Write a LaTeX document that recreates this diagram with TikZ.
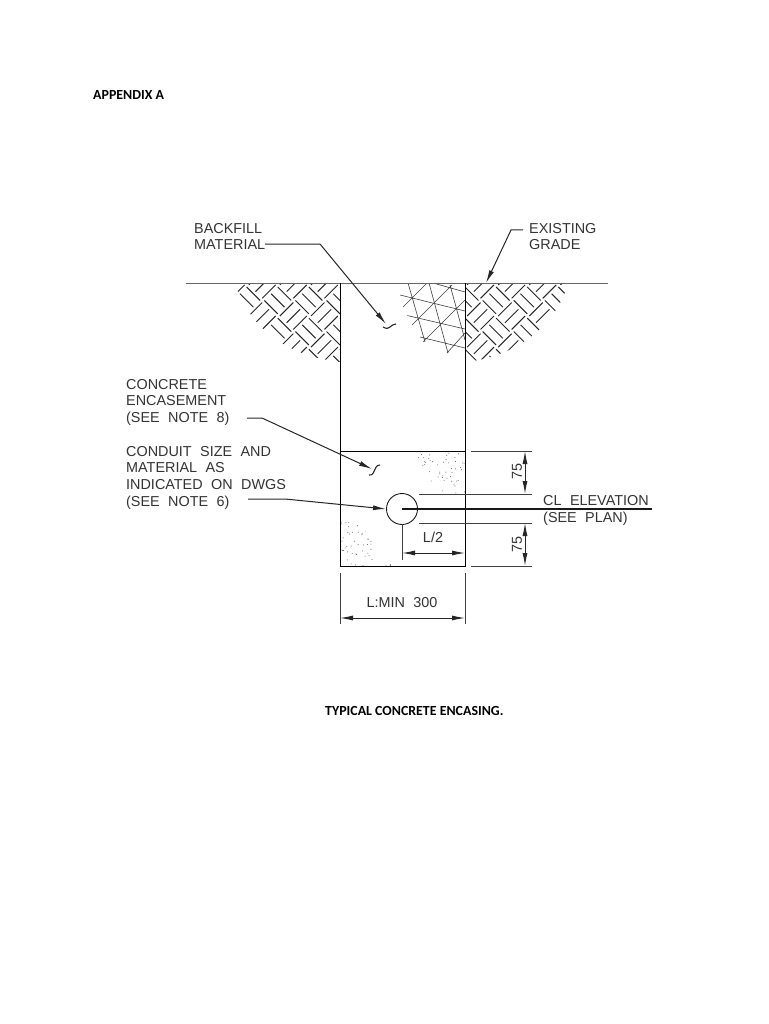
\documentclass[tikz,border=0pt]{standalone}
\usepackage{fontspec}
\usetikzlibrary{arrows.meta}
\newfontfamily\cadfont[WordSpace=2.1]{Liberation Sans}
\newfontfamily\docfont{Carlito}
\definecolor{cadtext}{gray}{0.2}
\tikzset{
  cadlabel/.style={anchor=north west,inner sep=0pt,align=left,text=cadtext,font=\cadfont\fontsize{14.4}{16.6}\selectfont},
  doclabel/.style={anchor=base west,inner sep=0pt,font=\docfont\bfseries\fontsize{13.9}{16}\selectfont},
  outline/.style={line width=0.9pt,black},
  thinline/.style={line width=0.9pt,black!75},
  leader/.style={line width=1pt,black!85,-{Latex[length=13pt,width=5pt]}},
  dimline/.style={line width=0.9pt,black!85,{Latex[length=13pt,width=5pt]}-{Latex[length=13pt,width=5pt]}},
  hatchline/.style={line width=0.95pt,black!85},
  meshline/.style={line width=0.6pt,black!75},
  squiggle/.style={line width=1.1pt,black!85}
}
\newcommand{\weave}[3]{%
  \begin{scope}
    \clip #1;
    \begin{scope}[shift={(#2,#3)},rotate=45]
      \foreach \i in {-6,...,6}{\foreach \j in {-6,...,6}{
        \pgfmathtruncatemacro{\wv}{mod(abs(\i+\j),2)}
        \pgfmathsetmacro{\xa}{\i*22+1.5}
        \pgfmathsetmacro{\xb}{\i*22+20.5}
        \pgfmathsetmacro{\ya}{\j*22+1.5}
        \pgfmathsetmacro{\yb}{\j*22+20.5}
        \pgfmathsetmacro{\xm}{\i*22+11}
        \pgfmathsetmacro{\ym}{\j*22+11}
        \ifnum\wv=0
          \draw[hatchline] (\xa,\ya) -- (\xb,\ya) (\xa,\ym) -- (\xb,\ym) (\xa,\yb) -- (\xb,\yb);
        \else
          \draw[hatchline] (\xa,\ya) -- (\xa,\yb) (\xm,\ya) -- (\xm,\yb) (\xb,\ya) -- (\xb,\yb);
        \fi
      }}
    \end{scope}
  \end{scope}}
\begin{document}
\begin{tikzpicture}[x=1pt,y=-1pt]
\useasboundingbox (0,0) rectangle (768,1024);

% page texts
\node[doclabel] (appendix) at (93,100) {APPENDIX A};
\node[doclabel] (caption) at (325,715) {TYPICAL CONCRETE ENCASING.};

% hatch regions
\weave{(235,284) -- (340,284) -- (340,362) .. controls (300,357) and (255,340) .. (235,284) -- cycle}{340}{316}
\weave{(465,284) -- (568,284) .. controls (552,335) and (505,358) .. (465,362) -- cycle}{465}{316}

% mesh
\begin{scope}
\clip (398,284) -- (465,284) -- (465,353) -- (445,356) -- (420,342) -- (400,300) -- cycle;
\draw[meshline]
  (408,283) -- (425,342) (429,283) -- (448,353) (450,285) -- (465,340)
  (433,283) -- (465,292) (400,295) -- (465,311) (405,315) -- (465,329) (420,337) -- (465,348)
  (402,308) -- (427,283) (412,325) -- (452,285) (423,342) -- (465,300) (447,353) -- (465,333);
\end{scope}

% stipple
\pgfmathsetseed{11}
\begin{scope}
\clip (414,452) -- (465,452) -- (465,494) -- (438,494) -- cycle;
\foreach \k in {1,...,60}{\fill[black!65] (412+54*rnd,452+42*rnd) circle (0.5pt);}
\end{scope}
\begin{scope}
\clip (340,522) -- (358,522) -- (394,566) -- (340,566) -- cycle;
\foreach \k in {1,...,65}{\fill[black!65] (340+55*rnd,522+44*rnd) circle (0.5pt);}
\end{scope}

% structure
\coordinate (gl) at (186,283);
\coordinate (gr) at (608,283);
\coordinate (tl) at (340,283);
\coordinate (tr) at (465,283);
\coordinate (cl) at (340,451);
\coordinate (cr) at (465,451);
\coordinate (bl) at (340,566);
\coordinate (br) at (465,566);
\draw[line width=0.9pt,black!60] (gl) -- (gr);
\draw[outline] (tl) -- (bl) -- (br) -- (tr);
\draw[outline] (cl) -- (cr);

% conduit
\node[draw,circle,line width=0.9pt,black!90,minimum size=31pt,inner sep=0pt] (conduit) at (402,509) {};
\coordinate (clc) at (402,509);
\coordinate (cle) at (652,509);
\draw[line width=1.2pt,black!90] (clc) -- (cle);

% extension lines
\coordinate (e1a) at (471,451); \coordinate (e1b) at (532,451);
\coordinate (e2a) at (419,494); \coordinate (e2b) at (532,494);
\coordinate (e3a) at (419,523); \coordinate (e3b) at (532,523);
\coordinate (e4a) at (471,566); \coordinate (e4b) at (532,566);
\draw[thinline] (e1a) -- (e1b) (e2a) -- (e2b) (e3a) -- (e3b) (e4a) -- (e4b);

% dims 75
\coordinate (d1a) at (525,451); \coordinate (d1b) at (525,494);
\coordinate (d2a) at (525,523); \coordinate (d2b) at (525,566);
\draw[dimline] (d1a) -- (d1b);
\draw[dimline] (d2a) -- (d2b);
\node[cadlabel,anchor=center,rotate=90] (dimA) at (517,471) {75};
\node[cadlabel,anchor=center,rotate=90] (dimB) at (517,544) {75};

% L/2
\coordinate (h1) at (402,524); \coordinate (h2) at (402,560);
\draw[thinline] (h1) -- (h2);
\coordinate (h3) at (402,553); \coordinate (h4) at (465,553);
\draw[dimline] (h3) -- (h4);
\node[cadlabel,anchor=center] (halfL) at (433,537) {L/2};

% L:MIN 300
\coordinate (m1) at (340,573); \coordinate (m2) at (340,624);
\coordinate (m3) at (465,573); \coordinate (m4) at (465,624);
\draw[thinline] (m1) -- (m2) (m3) -- (m4);
\coordinate (m5) at (340,618); \coordinate (m6) at (465,618);
\draw[dimline] (m5) -- (m6);
\node[cadlabel,anchor=center] (minL) at (402,603) {L:MIN 300};

% labels
\node[cadlabel] (backfill) at (194,223) {BACKFILL\\MATERIAL};
\node[cadlabel] (existing) at (529,223) {EXISTING\\GRADE};
\node[cadlabel] (concrete) at (126,379) {CONCRETE\\ENCASEMENT\\(SEE NOTE 8)};
\node[cadlabel] (size) at (126,446) {CONDUIT SIZE AND\\MATERIAL AS\\INDICATED ON DWGS\\(SEE NOTE 6)};
\node[cadlabel] (elev) at (543,495) {CL ELEVATION};
\node[cadlabel] (plan) at (543,512) {(SEE PLAN)};

% leaders
\coordinate (b0) at (265,244); \coordinate (b1) at (320,244); \coordinate (b2) at (386,324);
\draw[leader] (b0) -- (b1) -- (b2);
\coordinate (x0) at (523,230); \coordinate (x1) at (511,230); \coordinate (x2) at (486,283);
\draw[leader] (x0) -- (x1) -- (x2);
\coordinate (c0) at (247,418); \coordinate (c1) at (262,418); \coordinate (c2) at (372,469);
\draw[leader] (c0) -- (c1) -- (c2);
\coordinate (s0) at (248,499); \coordinate (s1) at (285,499);
\draw[leader] (s0) -- (s1) -- (conduit.west);

% break marks
\coordinate (q1a) at (383,327); \coordinate (q1b) at (396,324);
\draw[squiggle] (q1a) .. controls (390,331) and (389,325) .. (q1b);
\coordinate (q2a) at (369,475); \coordinate (q2b) at (380,465);
\draw[squiggle] (q2a) .. controls (376,476) and (373,465) .. (q2b);
\end{tikzpicture}
\end{document}
